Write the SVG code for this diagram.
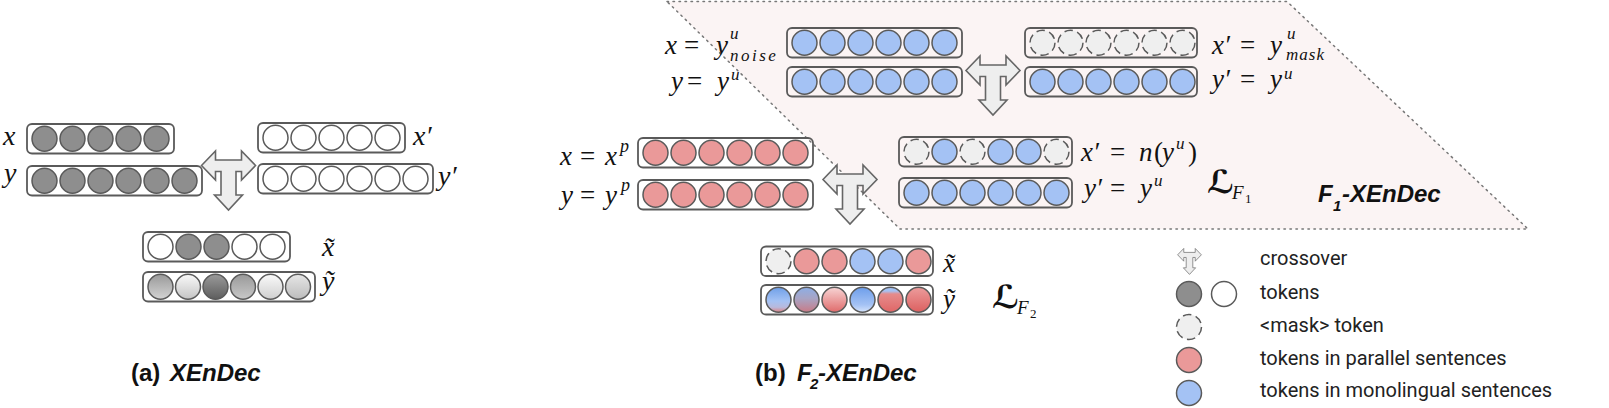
<svg xmlns="http://www.w3.org/2000/svg" width="1609" height="408" viewBox="0 0 1609 408">
<style>
.box{fill:none;stroke:#5a5a5a;stroke-width:1.8}
.tk{stroke:#5a5a5a;stroke-width:1.5}
.g{fill:#8e8e8e}
.w{fill:#ffffff}
.p{fill:#ea9999}
.b{fill:#a4c2f4}
.k{fill:#efefef;stroke-dasharray:8.5 4.6}
.m{font-family:"Liberation Serif","DejaVu Serif",serif;font-style:italic;fill:#111}
.up{font-style:normal}
.cal{font-family:"DejaVu Serif","DejaVu Sans",serif;font-style:normal;fill:#111}
.cap{font-family:"Liberation Sans",Arial,sans-serif;font-weight:bold;font-size:24px;fill:#111}
.leg{font-family:Roboto,"Liberation Sans",sans-serif;font-size:20px;fill:#222}
.xo{fill:#eeeeee;stroke:#666666;stroke-width:1.6;stroke-linejoin:miter}
</style>
<defs>
<path id="cross" d="M -27 15.5 L -13 1 L -13 10 L 13 10 L 13 1 L 27 15.5 L 13 30 L 13 21.5 L 7.5 21.5 L 7.5 45 L 14 45 L 0 60 L -14 45 L -7.5 45 L -7.5 21.5 L -13 21.5 L -13 30 Z"/>
<linearGradient id="ga1" x1="0" y1="0" x2="0" y2="1"><stop offset="0" stop-color="#999"/><stop offset="1" stop-color="#d4d4d4"/></linearGradient>
<linearGradient id="ga2" x1="0" y1="0" x2="0" y2="1"><stop offset="0" stop-color="#fafafa"/><stop offset="1" stop-color="#c4c4c4"/></linearGradient>
<linearGradient id="ga3" x1="0" y1="0" x2="0" y2="1"><stop offset="0" stop-color="#9a9a9a"/><stop offset="1" stop-color="#5e5e5e"/></linearGradient>
<linearGradient id="ga4" x1="0" y1="0" x2="0" y2="1"><stop offset="0" stop-color="#999"/><stop offset="1" stop-color="#c8c8c8"/></linearGradient>
<linearGradient id="ga5" x1="0" y1="0" x2="0" y2="1"><stop offset="0" stop-color="#fafafa"/><stop offset="1" stop-color="#cfcfcf"/></linearGradient>
<linearGradient id="ga6" x1="0" y1="0" x2="0" y2="1"><stop offset="0" stop-color="#e6e6e6"/><stop offset="1" stop-color="#bcbcbc"/></linearGradient>
<linearGradient id="gb1" x1="0" y1="0" x2="0" y2="1"><stop offset="0" stop-color="#6f9fe8"/><stop offset="0.55" stop-color="#a4c2f4"/><stop offset="0.8" stop-color="#b8b9dc"/><stop offset="1" stop-color="#e07f7f"/></linearGradient>
<linearGradient id="gb2" x1="0" y1="0" x2="0" y2="1"><stop offset="0" stop-color="#8daee6"/><stop offset="0.45" stop-color="#a8a4c4"/><stop offset="1" stop-color="#c97a86"/></linearGradient>
<linearGradient id="gb3" x1="0" y1="0" x2="0" y2="1"><stop offset="0" stop-color="#f7d4d4"/><stop offset="1" stop-color="#e06b6b"/></linearGradient>
<linearGradient id="gb4" x1="0" y1="0" x2="0" y2="1"><stop offset="0" stop-color="#6d9eeb"/><stop offset="0.7" stop-color="#a4c2f4"/><stop offset="1" stop-color="#d6e4fb"/></linearGradient>
<linearGradient id="gb5" x1="0" y1="0" x2="0" y2="1"><stop offset="0" stop-color="#a4c2f4"/><stop offset="0.15" stop-color="#a4c2f4"/><stop offset="0.27" stop-color="#e58c8c"/><stop offset="1" stop-color="#e06666"/></linearGradient>
<linearGradient id="gb6" x1="0" y1="0" x2="0" y2="1"><stop offset="0" stop-color="#ec9c9c"/><stop offset="1" stop-color="#dc6060"/></linearGradient>
</defs>

<g id="f1-region">
<polygon points="667,1.5 1287,1.5 1528,229 900,229" fill="#fbf4f4" stroke="#777" stroke-width="1.5" stroke-dasharray="1.5 4.5" stroke-linecap="round"/>
</g>

<!-- Part (a) -->
<g id="a-x">
<rect class="box" x="27" y="124" width="147" height="29.5" rx="5"/>
<circle class="tk g" cx="44.5" cy="138.75" r="12.5"/><circle class="tk g" cx="72.5" cy="138.75" r="12.5"/><circle class="tk g" cx="100.5" cy="138.75" r="12.5"/><circle class="tk g" cx="128.5" cy="138.75" r="12.5"/><circle class="tk g" cx="156.5" cy="138.75" r="12.5"/>
<text class="m" x="3" y="145" font-size="28">x</text>
</g>
<g id="a-y">
<rect class="box" x="27" y="166" width="175" height="29.5" rx="5"/>
<circle class="tk g" cx="44.5" cy="180.75" r="12.5"/><circle class="tk g" cx="72.5" cy="180.75" r="12.5"/><circle class="tk g" cx="100.5" cy="180.75" r="12.5"/><circle class="tk g" cx="128.5" cy="180.75" r="12.5"/><circle class="tk g" cx="156.5" cy="180.75" r="12.5"/><circle class="tk g" cx="184.5" cy="180.75" r="12.5"/>
<text class="m" x="4" y="182" font-size="28">y</text>
</g>
<g id="a-xprime">
<rect class="box" x="258" y="123" width="147" height="29.5" rx="5"/>
<circle class="tk w" cx="275.5" cy="137.75" r="12.5"/><circle class="tk w" cx="303.5" cy="137.75" r="12.5"/><circle class="tk w" cx="331.5" cy="137.75" r="12.5"/><circle class="tk w" cx="359.5" cy="137.75" r="12.5"/><circle class="tk w" cx="387.5" cy="137.75" r="12.5"/>
<text class="m" x="413" y="145" font-size="28">x′</text>
</g>
<g id="a-yprime">
<rect class="box" x="258" y="164" width="175" height="29.5" rx="5"/>
<circle class="tk w" cx="275.5" cy="178.75" r="12.5"/><circle class="tk w" cx="303.5" cy="178.75" r="12.5"/><circle class="tk w" cx="331.5" cy="178.75" r="12.5"/><circle class="tk w" cx="359.5" cy="178.75" r="12.5"/><circle class="tk w" cx="387.5" cy="178.75" r="12.5"/><circle class="tk w" cx="415.5" cy="178.75" r="12.5"/>
<text class="m" x="438" y="185" font-size="28">y′</text>
</g>
<g id="a-xtilde">
<rect class="box" x="143" y="232" width="147" height="29.5" rx="5"/>
<circle class="tk w" cx="160.5" cy="246.75" r="12.5"/><circle class="tk g" cx="188.5" cy="246.75" r="12.5"/><circle class="tk g" cx="216.5" cy="246.75" r="12.5"/><circle class="tk w" cx="244.5" cy="246.75" r="12.5"/><circle class="tk w" cx="272.5" cy="246.75" r="12.5"/>
<text class="m" x="322" y="256" font-size="28">x̃</text>
</g>
<g id="a-ytilde">
<rect class="box" x="143" y="272" width="172" height="29.5" rx="5"/>
<circle class="tk" fill="url(#ga1)" cx="160.5" cy="286.75" r="12.5"/><circle class="tk" fill="url(#ga2)" cx="188" cy="286.75" r="12.5"/><circle class="tk" fill="url(#ga3)" cx="215.5" cy="286.75" r="12.5"/><circle class="tk" fill="url(#ga4)" cx="243" cy="286.75" r="12.5"/><circle class="tk" fill="url(#ga5)" cx="270.5" cy="286.75" r="12.5"/><circle class="tk" fill="url(#ga6)" cx="298" cy="286.75" r="12.5"/>
<text class="m" x="322" y="290" font-size="28">ỹ</text>
</g>

<!-- Part (b) -->
<g id="b-noise-x">
<rect class="box" x="787" y="28" width="175" height="29.5" rx="5"/>
<circle class="tk b" cx="804.5" cy="42.75" r="12.5"/><circle class="tk b" cx="832.5" cy="42.75" r="12.5"/><circle class="tk b" cx="860.5" cy="42.75" r="12.5"/><circle class="tk b" cx="888.5" cy="42.75" r="12.5"/><circle class="tk b" cx="916.5" cy="42.75" r="12.5"/><circle class="tk b" cx="944.5" cy="42.75" r="12.5"/>
<text class="m" font-size="27"><tspan x="665" y="54">x</tspan><tspan class="up" x="684" y="54">=</tspan><tspan x="716" y="54">y</tspan><tspan x="730" y="39" font-size="17">u</tspan><tspan x="730" y="61" font-size="17" letter-spacing="2.5">noise</tspan></text>
</g>
<g id="b-noise-y">
<rect class="box" x="787" y="67" width="175" height="29.5" rx="5"/>
<circle class="tk b" cx="804.5" cy="81.75" r="12.5"/><circle class="tk b" cx="832.5" cy="81.75" r="12.5"/><circle class="tk b" cx="860.5" cy="81.75" r="12.5"/><circle class="tk b" cx="888.5" cy="81.75" r="12.5"/><circle class="tk b" cx="916.5" cy="81.75" r="12.5"/><circle class="tk b" cx="944.5" cy="81.75" r="12.5"/>
<text class="m" font-size="27"><tspan x="671" y="90">y</tspan><tspan class="up" x="687" y="90">=</tspan><tspan x="717" y="90">y</tspan><tspan x="731" y="80" font-size="17">u</tspan></text>
</g>
<g id="b-mask-x">
<rect class="box" x="1025" y="28" width="172" height="29.5" rx="5"/>
<circle class="tk k" cx="1042.5" cy="42.75" r="12.5"/><circle class="tk k" cx="1070.5" cy="42.75" r="12.5"/><circle class="tk k" cx="1098.5" cy="42.75" r="12.5"/><circle class="tk k" cx="1126.5" cy="42.75" r="12.5"/><circle class="tk k" cx="1154.5" cy="42.75" r="12.5"/><circle class="tk k" cx="1182.5" cy="42.75" r="12.5"/>
<text class="m" font-size="27"><tspan x="1212" y="54">x′</tspan><tspan class="up" x="1240" y="54">=</tspan><tspan x="1270" y="54">y</tspan><tspan x="1287" y="39" font-size="17">u</tspan><tspan x="1286" y="60" font-size="17" letter-spacing="1">mask</tspan></text>
</g>
<g id="b-mask-y">
<rect class="box" x="1025" y="67" width="172" height="29.5" rx="5"/>
<circle class="tk b" cx="1042.5" cy="81.75" r="12.5"/><circle class="tk b" cx="1070.5" cy="81.75" r="12.5"/><circle class="tk b" cx="1098.5" cy="81.75" r="12.5"/><circle class="tk b" cx="1126.5" cy="81.75" r="12.5"/><circle class="tk b" cx="1154.5" cy="81.75" r="12.5"/><circle class="tk b" cx="1182.5" cy="81.75" r="12.5"/>
<text class="m" font-size="27"><tspan x="1212" y="88">y′</tspan><tspan class="up" x="1240" y="88">=</tspan><tspan x="1270" y="88">y</tspan><tspan x="1284" y="79" font-size="17">u</tspan></text>
</g>
<g id="b-n-x">
<rect class="box" x="899" y="137" width="173" height="29.5" rx="5"/>
<circle class="tk k" cx="916.5" cy="151.75" r="12.5"/><circle class="tk b" cx="944.5" cy="151.75" r="12.5"/><circle class="tk k" cx="972.5" cy="151.75" r="12.5"/><circle class="tk b" cx="1000.5" cy="151.75" r="12.5"/><circle class="tk b" cx="1028.5" cy="151.75" r="12.5"/><circle class="tk k" cx="1056.5" cy="151.75" r="12.5"/>
<text class="m" font-size="27"><tspan x="1081" y="161">x′</tspan><tspan class="up" x="1110" y="161">=</tspan><tspan x="1139" y="161">n</tspan><tspan class="up" x="1154" y="161">(</tspan><tspan x="1162" y="161">y</tspan><tspan x="1176" y="149" font-size="17">u</tspan><tspan class="up" x="1188" y="161">)</tspan></text>
</g>
<g id="b-n-y">
<rect class="box" x="899" y="178" width="173" height="29.5" rx="5"/>
<circle class="tk b" cx="916.5" cy="192.75" r="12.5"/><circle class="tk b" cx="944.5" cy="192.75" r="12.5"/><circle class="tk b" cx="972.5" cy="192.75" r="12.5"/><circle class="tk b" cx="1000.5" cy="192.75" r="12.5"/><circle class="tk b" cx="1028.5" cy="192.75" r="12.5"/><circle class="tk b" cx="1056.5" cy="192.75" r="12.5"/>
<text class="m" font-size="27"><tspan x="1084" y="197">y′</tspan><tspan class="up" x="1110" y="197">=</tspan><tspan x="1140" y="197">y</tspan><tspan x="1154" y="186" font-size="17">u</tspan></text>
</g>
<g id="loss-f1">
<text class="cal" x="1207" y="193" font-size="32" font-weight="bold">ℒ</text>
<text class="m" x="1232" y="199" font-size="19">F</text>
<text class="m up" x="1245" y="203" font-size="13">1</text>
</g>
<g id="f1-title">
<text class="cap" font-style="italic"><tspan x="1318" y="202">F</tspan><tspan x="1333" y="211" font-size="15">1</tspan><tspan x="1342" y="202">-XEnDec</tspan></text>
</g>
<g id="b-xp">
<rect class="box" x="638" y="138" width="175" height="29.5" rx="5"/>
<circle class="tk p" cx="655.5" cy="152.75" r="12.5"/><circle class="tk p" cx="683.5" cy="152.75" r="12.5"/><circle class="tk p" cx="711.5" cy="152.75" r="12.5"/><circle class="tk p" cx="739.5" cy="152.75" r="12.5"/><circle class="tk p" cx="767.5" cy="152.75" r="12.5"/><circle class="tk p" cx="795.5" cy="152.75" r="12.5"/>
<text class="m" font-size="27"><tspan x="560" y="165">x</tspan><tspan class="up" x="580" y="165">=</tspan><tspan x="605" y="165">x</tspan><tspan x="620" y="152" font-size="18">p</tspan></text>
</g>
<g id="b-yp">
<rect class="box" x="638" y="180" width="175" height="29.5" rx="5"/>
<circle class="tk p" cx="655.5" cy="194.75" r="12.5"/><circle class="tk p" cx="683.5" cy="194.75" r="12.5"/><circle class="tk p" cx="711.5" cy="194.75" r="12.5"/><circle class="tk p" cx="739.5" cy="194.75" r="12.5"/><circle class="tk p" cx="767.5" cy="194.75" r="12.5"/><circle class="tk p" cx="795.5" cy="194.75" r="12.5"/>
<text class="m" font-size="27"><tspan x="561" y="204">y</tspan><tspan class="up" x="580" y="204">=</tspan><tspan x="605" y="204">y</tspan><tspan x="621" y="191" font-size="18">p</tspan></text>
</g>
<g id="b-xtilde">
<rect class="box" x="761" y="246.5" width="172" height="29.5" rx="5"/>
<circle class="tk k" cx="778.5" cy="261.25" r="12.5"/><circle class="tk p" cx="806.5" cy="261.25" r="12.5"/><circle class="tk p" cx="834.5" cy="261.25" r="12.5"/><circle class="tk b" cx="862.5" cy="261.25" r="12.5"/><circle class="tk b" cx="890.5" cy="261.25" r="12.5"/><circle class="tk p" cx="918.5" cy="261.25" r="12.5"/>
<text class="m" x="943" y="272" font-size="27">x̃</text>
</g>
<g id="b-ytilde">
<rect class="box" x="761" y="285" width="172" height="29.5" rx="5"/>
<circle class="tk" fill="url(#gb1)" cx="778.5" cy="299.75" r="12.5"/><circle class="tk" fill="url(#gb2)" cx="806.5" cy="299.75" r="12.5"/><circle class="tk" fill="url(#gb3)" cx="834.5" cy="299.75" r="12.5"/><circle class="tk" fill="url(#gb4)" cx="862.5" cy="299.75" r="12.5"/><circle class="tk" fill="url(#gb5)" cx="890.5" cy="299.75" r="12.5"/><circle class="tk" fill="url(#gb6)" cx="918.5" cy="299.75" r="12.5"/>
<text class="m" x="943" y="308" font-size="27">ỹ</text>
</g>
<g id="loss-f2">
<text class="cal" x="992" y="308" font-size="32" font-weight="bold">ℒ</text>
<text class="m" x="1017" y="314" font-size="19">F</text>
<text class="m up" x="1030" y="318" font-size="13">2</text>
</g>

<g id="connectors">
<use href="#cross" class="xo" transform="translate(228.5,150)"/>
<use href="#cross" class="xo" transform="translate(993,55)"/>
<use href="#cross" class="xo" transform="translate(850,164)"/>
</g>

<g id="captions">
<text class="cap" x="131" y="381">(a)</text>
<text class="cap" x="170" y="381" font-style="italic">XEnDec</text>
<text class="cap" x="755" y="381">(b)</text>
<text class="cap" font-style="italic"><tspan x="797" y="381">F</tspan><tspan x="810" y="389" font-size="15">2</tspan><tspan x="818" y="381">-XEnDec</tspan></text>
</g>

<g id="legend">
<use href="#cross" class="xo" transform="translate(1189.5,248) scale(0.44)" stroke-width="3.5"/>
<text class="leg" x="1260" y="265">crossover</text>
<circle class="tk g" cx="1189" cy="294" r="12.5"/>
<circle class="tk w" cx="1224" cy="294" r="12.5"/>
<text class="leg" x="1260" y="299">tokens</text>
<circle class="tk k" cx="1189" cy="327" r="12.5"/>
<text class="leg" x="1260" y="332">&lt;mask&gt; token</text>
<circle class="tk p" cx="1189" cy="360" r="12.5"/>
<text class="leg" x="1260" y="365">tokens in parallel sentences</text>
<circle class="tk b" cx="1189" cy="393" r="12.5"/>
<text class="leg" x="1260" y="397">tokens in monolingual sentences</text>
</g>
</svg>
